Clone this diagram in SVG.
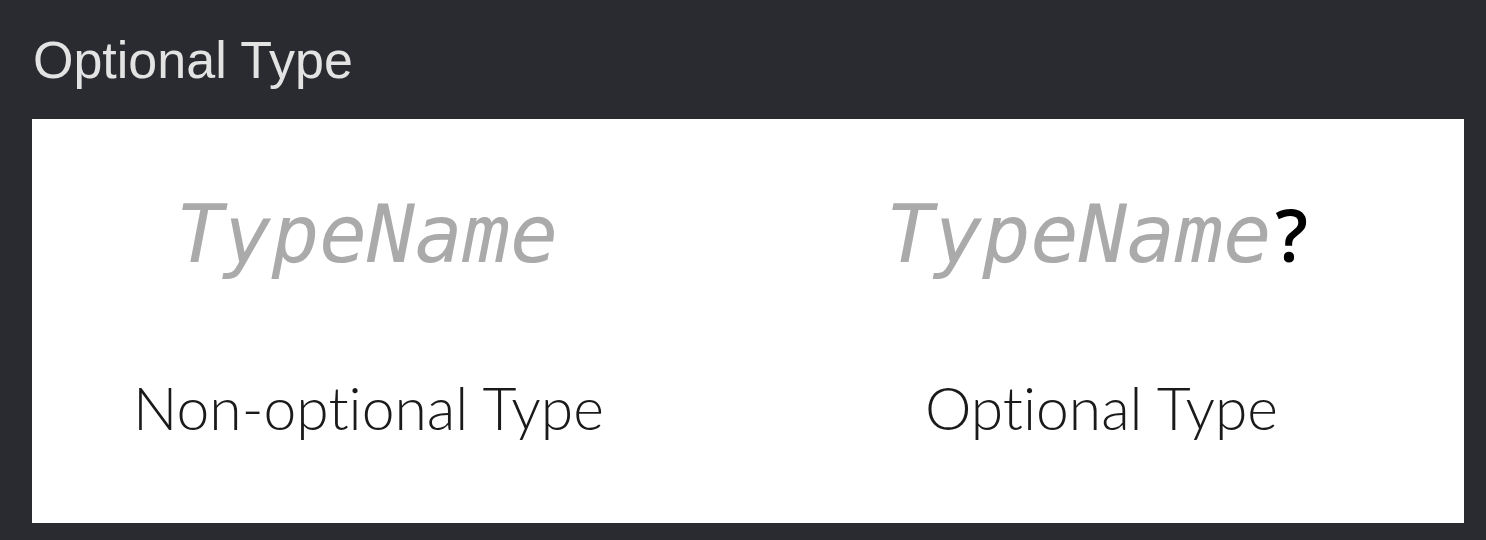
<svg xmlns="http://www.w3.org/2000/svg" width="1486" height="540" viewBox="0 0 1486 540">
<style>
.title{font-family:"Liberation Sans",Arial,sans-serif;font-size:52px;fill:#e3e3e3}
.code{font-family:"DejaVu Sans Mono",monospace;font-style:oblique;font-size:80px;fill:#aaaaaa}
.q{font-family:"Open Sans","Liberation Sans",sans-serif;font-style:normal;font-weight:600;font-size:72px;fill:#000}
.lbl{font-family:"Lato","Open Sans",sans-serif;font-weight:300;font-size:60px;fill:#1a1a1a;text-anchor:middle;font-variant-ligatures:none;font-feature-settings:"liga" 0}
</style>
<rect width="1486" height="540" fill="#2a2b30"/>
<text class="title" x="33" y="78">Optional Type</text>
<rect x="32" y="119" width="1432" height="404" fill="#ffffff"/>
<g id="non-optional">
<text class="code" x="176" y="262" textLength="382" lengthAdjust="spacingAndGlyphs">TypeName</text>
<text class="lbl" x="368.5" y="430" textLength="471" lengthAdjust="spacingAndGlyphs">Non-optional Type</text>
</g>
<g id="optional">
<text class="code" x="886" y="262">TypeName<tspan class="q" dx="4">?</tspan></text>
<text class="lbl" x="1101.5" y="430" textLength="353" lengthAdjust="spacingAndGlyphs">Optional Type</text>
</g>
<g id="connectors"/>
</svg>
